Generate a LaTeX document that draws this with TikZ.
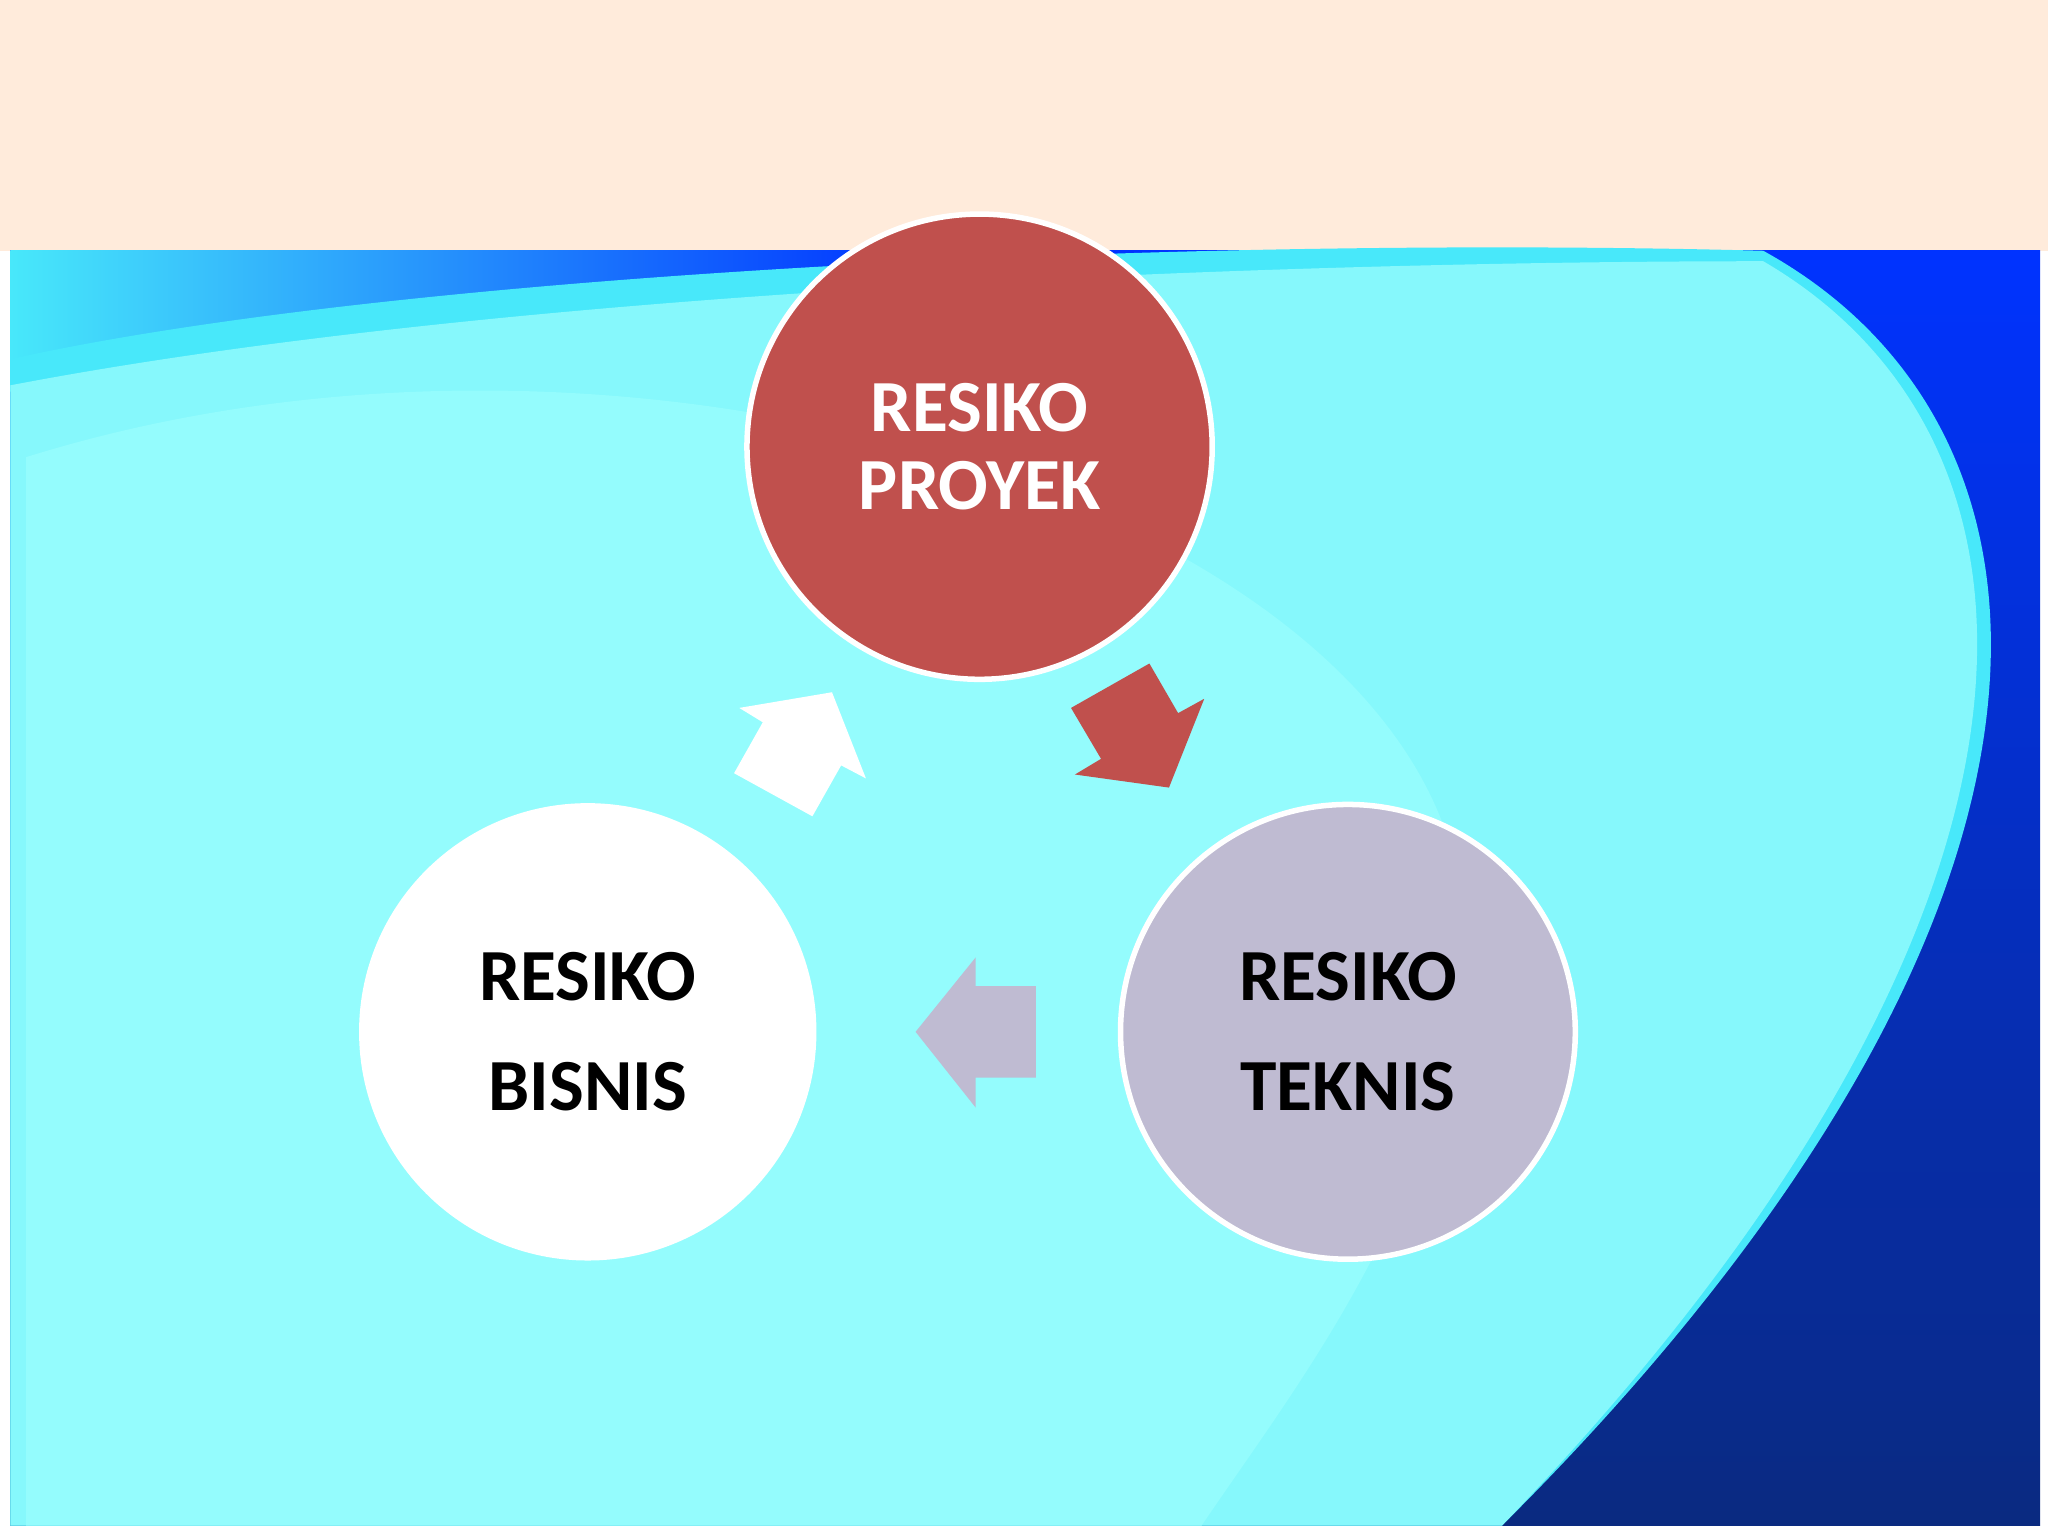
\documentclass[tikz,border=0pt]{standalone}
\usepackage{fontspec}
\setmainfont{Carlito}
\usetikzlibrary{positioning}
\definecolor{peach}{HTML}{FFEBDB}
\definecolor{proyek}{HTML}{C0504D}
\definecolor{teknis}{HTML}{BFBBD2}
\definecolor{cyanA}{HTML}{86F8FC}
\definecolor{cyanB}{HTML}{94FCFD}
\definecolor{cyanC}{HTML}{48E8FA}
\definecolor{deepblue}{HTML}{0A2A80}
\begin{document}
\begin{tikzpicture}[x=0.01cm, y=-0.01cm,
  risk/.style={circle, minimum size=3.48cm, inner sep=0pt, align=center,
    font=\fontsize{16}{17}\selectfont\bfseries}]
\useasboundingbox (0,0) rectangle (1568,1176);
\fill[white] (0,0) rectangle (1568,1176);
\fill[peach] (0,0) rectangle (1568,192);

% background
\shade[top color=blue!80!cyan, bottom color=deepblue] (8,192) rectangle (1562,1168);
\shade[left color=cyanC, right color=blue!80!cyan] (8,192) rectangle (700,300);
\fill[cyanC] (8,275) .. controls (300,210) and (900,180) .. (1350,192)
  .. controls (1600,330) and (1620,700) .. (1150,1168) -- (8,1168) -- cycle;
\fill[cyanA] (8,295) .. controls (400,220) and (1000,200) .. (1350,200)
  .. controls (1590,340) and (1600,700) .. (1150,1168) -- (8,1168) -- cycle;
\fill[cyanB] (20,350) .. controls (500,200) and (1100,400) .. (1120,700)
  .. controls (1120,900) and (1000,1050) .. (920,1168) -- (20,1168) -- cycle;

% circles
\node[risk, fill=proyek, draw=white, line width=1.2pt, text=white,
  minimum width=3.56cm, minimum height=3.44cm] (proyek) at (750,342) {RESIKO\\PROYEK};
\node[risk, fill=white, text=black, minimum size=3.5cm] (bisnis) at (450,790) {RESIKO\\[7pt]BISNIS};
\node[risk, fill=teknis, draw=white, line width=1.2pt, text=black] (teknis) at (1032,790) {RESIKO\\[7pt]TEKNIS};

% arrows
\fill[proyek] (820,542) -- (880,508) -- (902,546) -- (922,535) -- (895,603) -- (823,593) -- (843,581) -- cycle;
\fill[white] (562,592) -- (584,553) -- (566,542) -- (637,530) -- (663,596) -- (644,586) -- (622,625) -- cycle;
\fill[teknis] (793,755) -- (747,755) -- (747,733) -- (701,790) -- (747,848) -- (747,825) -- (793,825) -- cycle;
\end{tikzpicture}
\end{document}
